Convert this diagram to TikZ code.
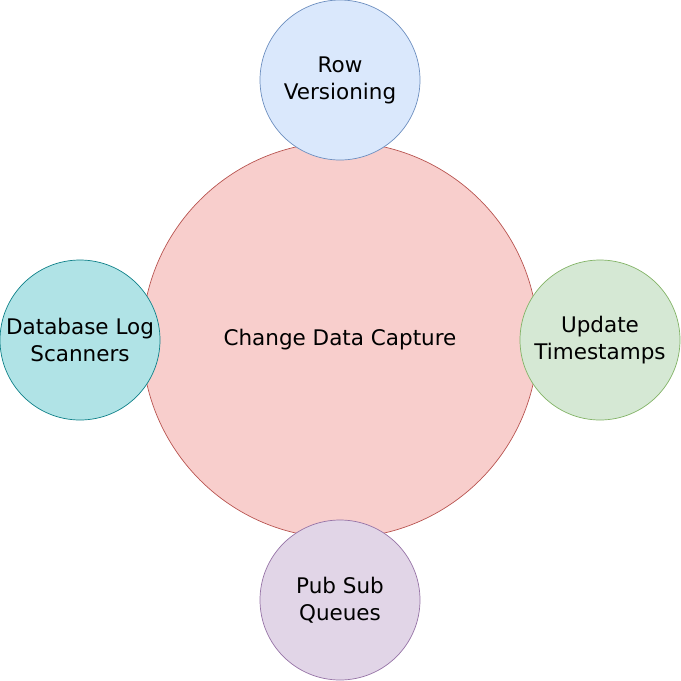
\documentclass[tikz,border=0pt]{standalone}
\usepackage{fontspec}
\setmainfont{DejaVu Sans}
\begin{document}
\begin{tikzpicture}[x=1pt,y=-1pt,
  circ/.style={circle,draw,line width=0.7pt,inner sep=0pt,align=center,font=\fontsize{21.5}{27}\selectfont}]
\useasboundingbox (0,0) rectangle (681,681);
\node[circ,minimum size=396pt,fill={rgb,255:red,248;green,206;blue,204},draw={rgb,255:red,184;green,84;blue,80}] (cdc) at (340,340) {Change Data Capture};
\node[circ,minimum size=160pt,fill={rgb,255:red,218;green,232;blue,252},draw={rgb,255:red,108;green,142;blue,191}] (rv) at (340,80) {Row\\Versioning};
\node[circ,minimum size=160pt,fill={rgb,255:red,176;green,227;blue,230},draw={rgb,255:red,14;green,128;blue,136}] (dl) at (80,340) {Database Log\\Scanners};
\node[circ,minimum size=160pt,fill={rgb,255:red,213;green,232;blue,212},draw={rgb,255:red,130;green,179;blue,102}] (ut) at (600,340) {Update\\Timestamps};
\node[circ,minimum size=160pt,fill={rgb,255:red,225;green,213;blue,231},draw={rgb,255:red,150;green,115;blue,166}] (ps) at (340,600) {Pub Sub\\Queues};
\end{tikzpicture}
\end{document}
